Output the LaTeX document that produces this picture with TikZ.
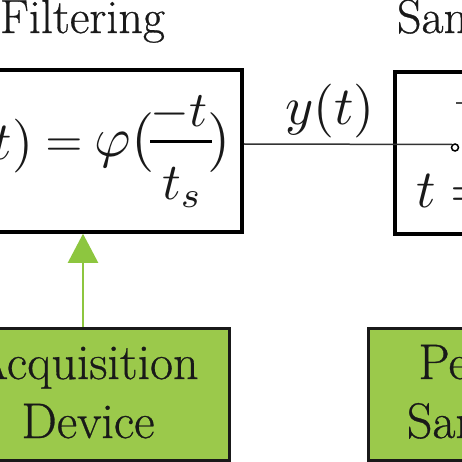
\documentclass[tikz,border=0pt]{standalone}
\usepackage{fontspec}
\usepackage{graphicx}
\setmainfont{Latin Modern Roman}[FakeBold=0.6]
\usetikzlibrary{arrows.meta}
\definecolor{boxgreen}{RGB}{155,201,75}
\definecolor{arrgreen}{RGB}{141,198,63}
\definecolor{edgedark}{RGB}{25,25,25}
\newcommand{\fs}[1]{\fontsize{#1bp}{1.25\dimexpr#1bp\relax}\selectfont}
\newcommand{\mth}[2]{\scalebox{#1}{$#2$}}
\tikzset{
  txt/.style={inner sep=0pt, outer sep=0pt, text=black!90},
  plainbox/.style={draw=black, line width=3.5bp, fill=white, inner sep=0pt},
  greenbox/.style={draw=edgedark, line width=3bp, fill=boxgreen, inner sep=0pt, align=center},
  garrow/.style={draw=arrgreen, line width=2bp, -{Triangle[length=29bp,width=30bp]}},
  wire/.style={draw=black!80, line width=1.5bp}
}
\begin{document}
\begin{tikzpicture}[x=1bp,y=-1bp]
\useasboundingbox (0,0) rectangle (462,462);
\clip (0,0) rectangle (462,462);
% titles
\node[txt, anchor=base west, font=\fs{48}] (tfilt) at (0,33) {Filtering};
\node[txt, anchor=base west, font=\fs{48}] (tsamp) at (397,33) {Sampling};
% blocks
\node[plainbox, minimum width=304bp, minimum height=162bp] (lbox) at (90,151) {};
\node[plainbox, minimum width=300bp, minimum height=162bp] (rbox) at (545,153) {};
\node[greenbox, minimum width=282bp, minimum height=132bp] (acq) at (88,394) {};
\node[txt, anchor=base, font=\fs{50}] (acq1) at (86,379) {Acquisition};
\node[txt, anchor=base, font=\fs{50}] (acq2) at (88,438) {Device};
\node[greenbox, minimum width=282bp, minimum height=132bp] (per) at (509,394) {};
\node[txt, anchor=base, font=\fs{50}] (per1) at (500,379) {Periodic};
\node[txt, anchor=base, font=\fs{50}] (per2) at (500,438) {Sampling};
% formula in left box
\node[txt, anchor=base east] (f1) at (33,160) {\mth{5.4}{h(t)}};
\node[txt, anchor=base] (f2) at (64,157) {\mth{4.8}{=}};
\node[txt, anchor=base west] (f3) at (94,157) {\mth{5.6}{\varphi}};
\node[txt, anchor=base west] (f4) at (131,158) {\mth{6.0}{(}};
\node[txt, anchor=base east] (f5) at (231,158) {\mth{6.0}{)}};
\node[txt, anchor=base] (fnum) at (179,127) {\mth{5.0}{-t}};
\node[txt, anchor=base west] (fden) at (162,200) {\mth{5.2}{t_s}};
\coordinate (barl) at (150,142);
\coordinate (barr) at (212,142);
\draw[line width=3bp] (barl) -- (barr);
% formula in right box
\node[txt, anchor=base west] (rt) at (416,208) {\mth{5.4}{t =}};
\coordinate (rdash1) at (456,103);
\coordinate (rdash2) at (463,103);
\draw[line width=1.5bp, black!70] (rdash1) -- (rdash2);
% wire and switch contact
\coordinate (sw) at (451,144);
\node[draw=black, line width=1.5bp, fill=white, circle, inner sep=0pt, minimum size=7bp] (cont) at (455,147.5) {};
\draw[wire] (sw -| lbox.east) -- (cont.north west);
\node[txt, anchor=base] (yt) at (330,125) {\mth{5.4}{y(t)}};
% green arrow
\coordinate (ax) at (83,0);
\draw[garrow] (ax |- acq.north) -- (ax |- lbox.south);
\end{tikzpicture}
\end{document}
